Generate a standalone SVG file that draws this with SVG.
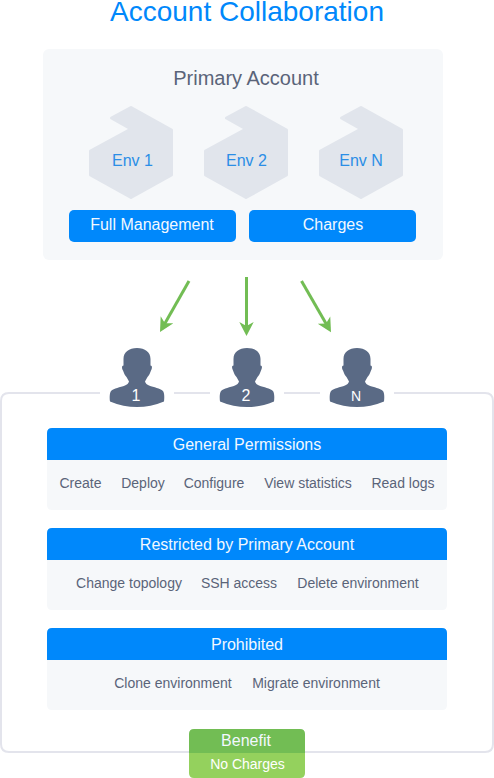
<svg xmlns="http://www.w3.org/2000/svg" xmlns:xlink="http://www.w3.org/1999/xlink" width="494" height="778" viewBox="0 0 494 778">
<style>
text{font-family:"Liberation Sans",Arial,sans-serif;text-anchor:middle}
.head{fill:#0088fb}
.body{fill:#f6f8fa}
.w16{fill:#f2f8ff;font-size:16px}
.item{fill:#5a6479;font-size:14px}
.env{fill:#2b8ee6;font-size:16px}
.hex{fill:#e1e5ec;stroke:#e1e5ec;stroke-width:3;stroke-linejoin:round}
.person{fill:#5a6a85}
.num{fill:#fff;font-size:16px}
.arrow{stroke:#72bd54;stroke-width:3;fill:none;marker-end:url(#ah)}
</style>
<defs>
<marker id="ah" markerUnits="userSpaceOnUse" markerWidth="16" markerHeight="16" refX="10" refY="8" orient="auto">
<path d="M14 8L0 .8L4 8L0 15.2Z" fill="#72bd54"/>
</marker>
<path id="hx" class="hex" d="M-19.5 -42 L0 -52.5 L40.5 -30 L40.5 15 L0 37.5 L-40.5 15 L-40.5 -9 L0 -31Z"/>
<path id="pp" d="M0 0C8 0 13.500 4 13.500 11L13.500 17.500C15.500 17.500 15.200 20.500 14 22.500C13.200 25 12 27.500 10.500 29L8 33.500C8.500 35.500 10 36.500 12 37.500C17 39.500 23 40 26 43C27.500 45 27.500 50 27 53.500C18 57.500 9 59 0 59C-9 59 -18 57.500 -27 53.500C-27.500 50 -27.500 45 -26 43C-23 40 -17 39.500 -12 37.500C-10 36.500 -8.500 35.500 -8 33.500L-10.500 29C-12 27.500 -13.200 25 -14 22.500C-15.200 20.500 -15.500 17.500 -13.500 17.500L-13.500 11C-13.500 4 -8 0 0 0Z"/>
</defs>
<rect width="494" height="778" fill="#fff"/>
<text id="title" x="247" y="20.500" style="font-size:28px;fill:#0088fb">Account Collaboration</text>
<g id="primary-account">
<rect x="43" y="49" width="400" height="211" rx="6" class="body"/>
<text x="246" y="85" style="font-size:20px;fill:#5a6479">Primary Account</text>
</g>
<g id="env-1"><use xlink:href="#hx" href="#hx" x="131" y="160"/><text x="132.500" y="166" class="env">Env 1</text></g>
<g id="env-2"><use xlink:href="#hx" href="#hx" x="246" y="160"/><text x="246.500" y="166" class="env">Env 2</text></g>
<g id="env-n"><use xlink:href="#hx" href="#hx" x="361" y="160"/><text x="361" y="166" class="env">Env N</text></g>
<g id="full-management"><rect x="69" y="210" width="167" height="32" rx="5" class="head"/><text x="152" y="230" class="w16">Full Management</text></g>
<g id="charges"><rect x="249" y="210" width="167" height="32" rx="5" class="head"/><text x="333" y="230" class="w16">Charges</text></g>
<g id="connectors">
<path class="arrow" d="M189 281L162 328.500"/>
<path class="arrow" d="M246.500 277L246.500 332"/>
<path class="arrow" d="M301.500 281L329 328.800"/>
</g>
<g id="collaborators-frame">
<path d="M100 393H9Q1 393 1 401V744Q1 752 9 752H485Q493 752 493 744V401Q493 393 485 393H394M320 393H284M210 393H174" fill="none" stroke="#e3e4ec" stroke-width="2"/>
</g>
<g id="user-1"><use xlink:href="#pp" href="#pp" x="137" y="348" class="person"/><text x="136" y="401" class="num">1</text></g>
<g id="user-2"><use xlink:href="#pp" href="#pp" x="247" y="348" class="person"/><text x="246" y="401" class="num">2</text></g>
<g id="user-n"><use xlink:href="#pp" href="#pp" x="357" y="348" class="person"/><text x="356" y="400.500" class="num" style="font-size:14px">N</text></g>
<g id="general-permissions">
<path class="body" d="M47 450H447V505Q447 510 442 510H52Q47 510 47 505Z"/>
<path class="head" d="M47 460V433Q47 428 52 428H442Q447 428 447 433V460Z"/>
<text x="247" y="450" class="w16">General Permissions</text>
<text x="80.500" y="488" class="item">Create</text>
<text x="143" y="488" class="item">Deploy</text>
<text x="214" y="488" class="item">Configure</text>
<text x="308" y="488" class="item">View statistics</text>
<text x="403" y="488" class="item">Read logs</text>
</g>
<g id="restricted">
<path class="body" d="M47 550H447V605Q447 610 442 610H52Q47 610 47 605Z"/>
<path class="head" d="M47 560V533Q47 528 52 528H442Q447 528 447 533V560Z"/>
<text x="247" y="550" class="w16">Restricted by Primary Account</text>
<text x="129" y="588" class="item">Change topology</text>
<text x="239" y="588" class="item">SSH access</text>
<text x="358" y="588" class="item">Delete environment</text>
</g>
<g id="prohibited">
<path class="body" d="M47 650H447V705Q447 710 442 710H52Q47 710 47 705Z"/>
<path class="head" d="M47 660V633Q47 628 52 628H442Q447 628 447 633V660Z"/>
<text x="247" y="650" class="w16">Prohibited</text>
<text x="173" y="688" class="item">Clone environment</text>
<text x="316" y="688" class="item">Migrate environment</text>
</g>
<g id="benefit">
<path d="M189 753V734Q189 729 194 729H300Q305 729 305 734V753Z" fill="#72bd54"/>
<path d="M189 753H305V773Q305 778 300 778H194Q189 778 189 773Z" fill="#94d15d"/>
<text x="246" y="746" class="w16">Benefit</text>
<text x="247.500" y="769" style="font-size:14px;fill:#fff">No Charges</text>
</g>
</svg>
